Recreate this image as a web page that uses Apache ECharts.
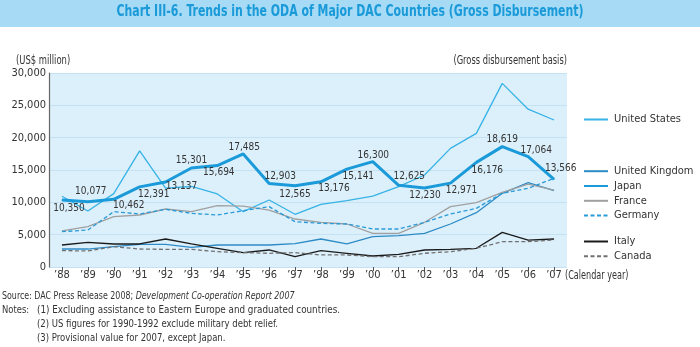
<!DOCTYPE html>
<html>
<head>
<meta charset="utf-8">
<script src="https://cdn.jsdelivr.net/npm/echarts@6/dist/echarts.min.js"></script>
<style>
  html, body { margin: 0; padding: 0; background: #fff; }
  #chart { width: 700px; height: 347px; }
</style>
</head>
<body>
<div id="chart"></div>
<script>
// calendar years on the x axis
const years = ['88', '89', '90', '91', '92', '93', '94', '95', '96', '97',
  '98', '99', '00', '01', '02', '03', '04', '05', '06', '07']

// gross disbursement, US$ million
const unitedStates = [10950, 8660, 11350, 17950, 12200, 12450, 11300, 8550, 10360, 8150,
  9700, 10250, 10950, 12420, 14230, 18350, 20670, 28400, 24400, 22730]
const unitedKingdom = [2780, 2780, 3140, 3500, 3500, 3050, 3400, 3400, 3400, 3610,
  4330, 3560, 4690, 4850, 5210, 6650, 8400, 11390, 13040, 11800]
const japan = [10350, 10077, 10462, 12391, 13137, 15301, 15694, 17485, 12903, 12565,
  13176, 15141, 16300, 12625, 12230, 12971, 16176, 18619, 17064, 13566]
const france = [5570, 6240, 7780, 8040, 8970, 8560, 9480, 9400, 8810, 7420,
  6910, 6650, 5210, 5210, 6910, 9330, 9950, 11550, 12830, 11900]
const germany = [5460, 5720, 8560, 8200, 8920, 8300, 8040, 8710, 9330, 7010,
  6750, 6650, 5880, 5880, 6910, 8200, 9070, 11390, 12170, 13710]
const italy = [3400, 3810, 3560, 3560, 4330, 3560, 2890, 2220, 2630, 1600,
  2530, 2120, 1700, 1960, 2630, 2730, 2890, 5360, 4170, 4330]
const canada = [2530, 2480, 3140, 2780, 2730, 2730, 2370, 2220, 2120, 2220,
  1860, 1860, 1600, 1600, 2120, 2370, 2890, 3910, 3910, 4170]

// where each Japan value label sits relative to its point [dx, dy]
const japanLabelOffsets = [[7, 8], [3, -10], [15, 6], [14, 7.5], [16, 4], [0, -7.5], [1.5, 7],
  [1, -7], [11, -7], [0, 8.5], [13, 6.5], [11.5, 7], [0.6, -6], [10.7, -9.4], [0.5, 7],
  [11, 7.7], [11, 8.3], [0, -7.6], [8, -6.6], [6.7, -11]]

const FONT = "'DejaVu Sans Condensed', 'DejaVu Sans', sans-serif"
const TEXT = '#333'

const chart = echarts.init(document.getElementById('chart'))

const thinLine = (name, data, color, type) => ({
  name,
  type: 'line',
  data,
  symbol: 'none',
  silent: true,
  lineStyle: { color, width: 1.3, type: type || 'solid' },
  itemStyle: { color },
  z: 2
})

// condensed text: the reference uses a narrow face, so squeeze horizontally
const note = (x, y, text, size, squeeze, extra) => ({
  type: 'text', x, y, scaleX: squeeze,
  style: Object.assign({ text, fill: TEXT, font: size + 'px ' + FONT }, extra || {})
})

const fmt = v => v.toLocaleString('en-US')

const option = {
  animation: false,
  textStyle: { fontFamily: FONT },
  grid: {
    left: 49, right: 133, top: 73, bottom: 80,
    show: true, backgroundColor: '#dcf0fb', borderWidth: 0
  },
  graphic: [
    { type: 'rect', x: 0, y: 0, shape: { width: 700, height: 27 }, style: { fill: '#a6daf5' }, z: -1 },
    note(350, 5, 'Chart III-6. Trends in the ODA of Major DAC Countries (Gross Disbursement)', 15, 0.81,
      { fill: '#1a9ad8', font: 'bold 15px ' + FONT, textAlign: 'center' }),
    note(16, 55, '(US$ million)', 12, 0.78),
    note(567, 55, '(Gross disbursement basis)', 12, 0.77, { textAlign: 'right' }),
    note(565, 270, '(Calendar year)', 12, 0.75),
    {
      type: 'text', x: 2, y: 291, scaleX: 0.8,
      style: {
        rich: { i: { fontStyle: 'italic', fontSize: 11, fontFamily: FONT, fill: TEXT } },
        text: 'Source: DAC Press Release 2008; {i|Development Co-operation Report 2007}',
        fill: TEXT, font: '11px ' + FONT
      }
    },
    note(2, 305, 'Notes:', 11, 0.85),
    note(37, 305, '(1) Excluding assistance to Eastern Europe and graduated countries.', 11, 0.89),
    note(37, 319, '(2) US figures for 1990-1992 exclude military debt relief.', 11, 0.86),
    note(37, 333, '(3) Provisional value for 2007, except Japan.', 11, 0.86)
  ],
  legend: [
    { data: ['United States'], top: 114 },
    { data: ['United Kingdom', 'Japan', 'France', 'Germany'], top: 165.7 },
    { data: ['Italy', 'Canada'], top: 236 }
  ].map(l => Object.assign({
    left: 583, orient: 'vertical', padding: 0, itemGap: 3.8,
    itemWidth: 24, itemHeight: 12,
    itemStyle: { opacity: 0 },
    textStyle: { fontSize: 11, color: TEXT, fontFamily: FONT, padding: [0, 0, 0, 1] }
  }, l)),
  xAxis: {
    type: 'category',
    data: years,
    boundaryGap: true,
    axisLine: { show: false },
    axisTick: { show: true, alignWithLabel: true, length: 4, lineStyle: { color: '#555' } },
    axisLabel: { formatter: v => '\u2019' + v, color: TEXT, fontSize: 11, margin: 3, fontFamily: FONT },
    splitLine: { show: false }
  },
  yAxis: {
    type: 'value',
    min: 0, max: 30000, interval: 5000,
    axisLine: { show: true, lineStyle: { color: '#666', width: 1.2 } },
    axisTick: { show: false },
    axisLabel: { formatter: v => fmt(v), color: TEXT, fontSize: 11, margin: 3, fontFamily: FONT },
    splitLine: { lineStyle: { color: '#c4e2f3', width: 1 } }
  },
  series: [
    thinLine('United States', unitedStates, '#37b2e6'),
    thinLine('United Kingdom', unitedKingdom, '#2e8bc6'),
    {
      name: 'Japan',
      type: 'line',
      data: japan.map((v, i) => ({
        value: v,
        label: { offset: japanLabelOffsets[i] }
      })),
      symbol: 'circle',
      symbolSize: 1,
      showAllSymbol: true,
      lineStyle: { color: '#1b9ad9', width: 3 },
      itemStyle: { color: '#1b9ad9' },
      label: {
        show: true,
        position: 'inside',
        formatter: p => fmt(p.value),
        color: '#333',
        fontSize: 10,
        fontFamily: FONT
      },
      z: 4
    },
    thinLine('France', france, '#a0a0a0'),
    thinLine('Germany', germany, '#2a9ad8', [4, 2.5]),
    thinLine('Italy', italy, '#1a1a1a'),
    thinLine('Canada', canada, '#707070', [4, 2.5])
  ]
}

chart.setOption(option)
window.addEventListener('resize', () => chart.resize())
</script>
</body>
</html>
